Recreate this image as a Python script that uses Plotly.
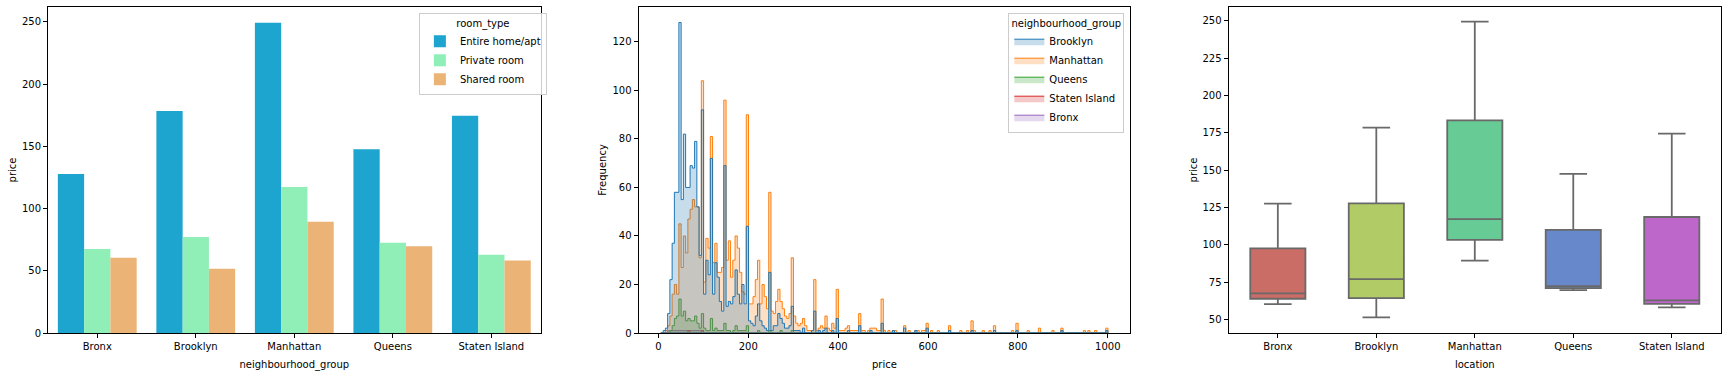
import numpy as np
import plotly.graph_objects as go

# ---------------- data ----------------
neighbourhoods = ["Bronx", "Brooklyn", "Manhattan", "Queens", "Staten Island"]
room_types = ["Entire home/apt", "Private room", "Shared room"]
price_entire = [127.7, 178.5, 249.4, 147.6, 174.5]
price_private = [67.6, 77.2, 117.3, 72.5, 62.9]
price_shared = [60.4, 51.6, 89.5, 69.8, 58.2]

# histogram: 199 bins of width 5 covering 5.5 .. 1000.5 (bin k holds price 10+5k)
hist_bin_edges = np.linspace(5.5, 1000.5, 200)
hist_groups = ["Brooklyn", "Manhattan", "Queens", "Staten Island", "Bronx"]

counts_brooklyn = [
    0, 1, 2, 8, 22, 37, 58, 58, 128, 55,            # 10-55
    82, 60, 60, 69, 68, 79, 52, 32, 92, 16,          # 60-105
    30, 24, 72, 16, 29, 23, 13, 9, 69, 11,           # 110-155
    13, 12, 15, 26, 16, 12, 20, 12, 44, 5,           # 160-205
    4, 3, 7, 12, 5, 3, 2, 1, 25, 1,                  # 210-255
    3, 3, 8, 6, 4, 2, 2, 3, 11, 1,                   # 260-305
    1, 1, 0, 2, 0, 0, 0, 1, 9, 0,                    # 310-355
    1, 0, 1, 2, 0, 0, 1, 0, 6, 0,                    # 360-405
    0, 0, 0, 1, 0, 0, 0, 0, 3, 0,                    # 410-455
    0, 0, 0, 1, 0, 0, 0, 0, 4, 0,                    # 460-505
    0, 0, 0, 1, 0, 0, 0, 0, 2, 0,                    # 510-555
    0, 0, 0, 1, 0, 0, 0, 0, 2, 0,                    # 560-605
    0, 0, 0, 0, 0, 0, 0, 0, 1, 0,                    # 610-655
    0, 0, 0, 0, 0, 0, 0, 0, 1, 0,                    # 660-705
    0, 0, 0, 0, 0, 0, 0, 0, 1, 0,                    # 710-755
    0, 0, 0, 0, 0, 0, 0, 0, 1, 0,                    # 760-805
    0, 0, 0, 0, 0, 0, 0, 0, 0, 0,                    # 810-855
    0, 0, 0, 0, 0, 0, 0, 0, 1, 0,                    # 860-905
    0, 0, 0, 0, 0, 0, 0, 0, 0, 0,                    # 910-955
    0, 0, 0, 0, 0, 0, 0, 0, 1,                       # 960-1000
]
counts_manhattan = [
    0, 0, 1, 3, 7, 16, 20, 16, 45, 27,               # 10-55
    40, 33, 47, 51, 55, 52, 52, 31, 104, 21,         # 60-105
    39, 35, 81, 29, 37, 25, 25, 27, 96, 30,          # 110-155
    38, 23, 30, 40, 35, 25, 17, 16, 90, 12,          # 160-205
    12, 15, 22, 30, 12, 20, 15, 10, 58, 9,           # 210-255
    8, 13, 18, 13, 10, 7, 6, 8, 31, 7,               # 260-305
    4, 3, 4, 6, 3, 1, 1, 1, 22, 1,                   # 310-355
    2, 3, 2, 7, 2, 1, 4, 2, 18, 1,                   # 360-405
    1, 1, 2, 3, 1, 1, 1, 1, 8, 1,                    # 410-455
    1, 0, 1, 2, 2, 2, 1, 1, 14, 1,                   # 460-505
    0, 1, 0, 1, 1, 0, 0, 0, 3, 0,                    # 510-555
    1, 0, 0, 1, 1, 0, 1, 1, 4, 0,                    # 560-605
    1, 0, 0, 1, 0, 0, 0, 0, 3, 0,                    # 610-655
    0, 0, 0, 1, 0, 0, 1, 0, 5, 1,                    # 660-705
    0, 0, 0, 1, 0, 0, 1, 0, 3, 0,                    # 710-755
    0, 0, 0, 0, 0, 0, 1, 0, 4, 0,                    # 760-805
    0, 0, 0, 1, 0, 0, 0, 0, 2, 0,                    # 810-855
    0, 0, 0, 0, 1, 0, 0, 0, 2, 0,                    # 860-905
    0, 0, 0, 0, 0, 0, 0, 0, 1, 0,                    # 910-955
    1, 0, 0, 1, 0, 0, 0, 0, 2,                       # 960-1000
]
counts_queens = [
    0, 0, 0, 0, 1, 3, 6, 7, 14, 7,                   # 10-55
    9, 5, 6, 5, 5, 7, 4, 2, 8, 2,                    # 60-105
    1, 1, 6, 1, 2, 1, 1, 1, 4, 1,                    # 110-155
    1, 0, 1, 3, 1, 1, 1, 1, 3, 0,                    # 160-205
    0, 0, 0, 1, 0, 0, 0, 0, 1, 0,                    # 210-255
    0, 0, 0, 1, 0, 0, 0, 0, 1, 0,                    # 260-305
] + [0] * 139
counts_staten_island = [0] * 12 + [1] + [0] * 5 + [1] + [0] * 180
counts_bronx = [0] * 3 + [1] * 16 + [0] * 180

hist_counts = {
    "Brooklyn": counts_brooklyn,
    "Manhattan": counts_manhattan,
    "Queens": counts_queens,
    "Staten Island": counts_staten_island,
    "Bronx": counts_bronx,
}
hist_colors = {
    "Brooklyn": (31, 119, 180),
    "Manhattan": (255, 127, 14),
    "Queens": (44, 160, 44),
    "Staten Island": (214, 39, 40),
    "Bronx": (148, 103, 189),
}

bar_colors = ["#1ea5cf", "#90efb7", "#ebb376"]
box_colors = ["#cb6d67", "#b1cb67", "#67cb95", "#6789cb", "#bd67cb"]

FONT = "DejaVu Sans"
fig = go.Figure()

# ---------------- chart 1: grouped bars ----------------
for name, vals, col in zip(room_types, [price_entire, price_private, price_shared], bar_colors):
    fig.add_trace(go.Bar(
        x=neighbourhoods, y=vals, name=name, marker=dict(color=col, line=dict(width=0)),
        xaxis="x", yaxis="y", legend="legend",
    ))

# ---------------- chart 2: layered step histograms ----------------
def step_polygon(edges, counts):
    xs, ys = [edges[0]], [0]
    for k, c in enumerate(counts):
        xs += [edges[k], edges[k + 1]]
        ys += [c, c]
    xs += [edges[-1], edges[0]]
    ys += [0, 0]
    return xs, ys

for g in reversed(hist_groups):
    r, gg, b = hist_colors[g]
    xs, ys = step_polygon(hist_bin_edges, hist_counts[g])
    fig.add_trace(go.Scatter(
        x=xs, y=ys, mode="lines", fill="toself",
        fillcolor=f"rgba({r},{gg},{b},0.25)",
        line=dict(color=f"rgb({r},{gg},{b})", width=1.0),
        name=g, xaxis="x2", yaxis="y2", legend="legend2", hoverinfo="skip",
    ))

# ---------------- chart 3: box plots ----------------
for i, loc in enumerate(neighbourhoods):
    fig.add_trace(go.Box(
        x=[loc] * 3, y=[price_entire[i], price_private[i], price_shared[i]],
        name=loc, fillcolor=box_colors[i], line=dict(color="rgb(105,105,105)", width=1.8),
        whiskerwidth=0.5, boxpoints=False, quartilemethod="inclusive",
        showlegend=False, xaxis="x3", yaxis="y3",
    ))

axis_common = dict(
    showline=True, mirror=True, linecolor="black", linewidth=1,
    ticks="outside", ticklen=4, tickwidth=1, tickcolor="black",
    showgrid=False, zeroline=False, automargin=False,
    tickfont=dict(family=FONT, size=10, color="black"),
    title_font=dict(family=FONT, size=10, color="black"),
)

W, H = 1728, 372
ml, mr, mt, mb = 47.5, 6.5, 7, 38.7
pw = W - ml - mr
ph = H - mt - mb

def dom(a, b):
    return [(a - ml) / pw, (b - ml) / pw]

def px_x(v):
    return (v - ml) / pw

def px_y(v):
    return 1 - (v - mt) / ph

XSTAND, YSTAND = 9, 3

fig.update_layout(
    width=W, height=H,
    margin=dict(l=ml, r=mr, t=mt, b=mb, autoexpand=False),
    paper_bgcolor="white", plot_bgcolor="white",
    font=dict(family=FONT, size=10, color="black"),
    barmode="group", bargap=0.2, bargroupgap=0,
    boxgap=0.2,
    xaxis=dict(axis_common, domain=dom(47.5, 540.4), anchor="y", type="category",
               range=[-0.5, 4.5], title=dict(text="neighbourhood_group", standoff=XSTAND)),
    yaxis=dict(axis_common, domain=[0, 1], anchor="x", range=[0, 262],
               dtick=50, title=dict(text="price", standoff=YSTAND)),
    xaxis2=dict(axis_common, domain=dom(638.4, 1130.5), anchor="y2",
                range=[-44.25, 1050.25], dtick=200, title=dict(text="price", standoff=XSTAND)),
    yaxis2=dict(axis_common, domain=[0, 1], anchor="x2", range=[0, 134.4],
                dtick=20, title=dict(text="Frequency", standoff=YSTAND)),
    xaxis3=dict(axis_common, domain=dom(1228.8, 1721.5), anchor="y3", type="category",
                range=[-0.5, 4.5], title=dict(text="location", standoff=XSTAND)),
    yaxis3=dict(axis_common, domain=[0, 1], anchor="x3", range=[41.1, 259.2],
                tick0=0, dtick=25, title=dict(text="price", standoff=YSTAND)),
    legend=dict(
        x=px_x(418.6), y=px_y(12.7), xref="paper", yref="paper",
        xanchor="left", yanchor="top",
        title=dict(text="room_type", side="top center", font=dict(family=FONT, size=10)),
        bgcolor="rgba(255,255,255,0.8)", bordercolor="#cccccc", borderwidth=1,
        font=dict(family=FONT, size=10, color="black"),
    ),
    legend2=dict(
        x=px_x(1008.4), y=px_y(12.7), xref="paper", yref="paper",
        xanchor="left", yanchor="top", traceorder="reversed",
        title=dict(text="neighbourhood_group", side="top center", font=dict(family=FONT, size=10)),
        bgcolor="rgba(255,255,255,0.8)", bordercolor="#cccccc", borderwidth=1,
        font=dict(family=FONT, size=10, color="black"),
    ),
)

fig.write_html("out.html", config={"displayModeBar": False},
               post_script="document.body.style.margin='0px';")
